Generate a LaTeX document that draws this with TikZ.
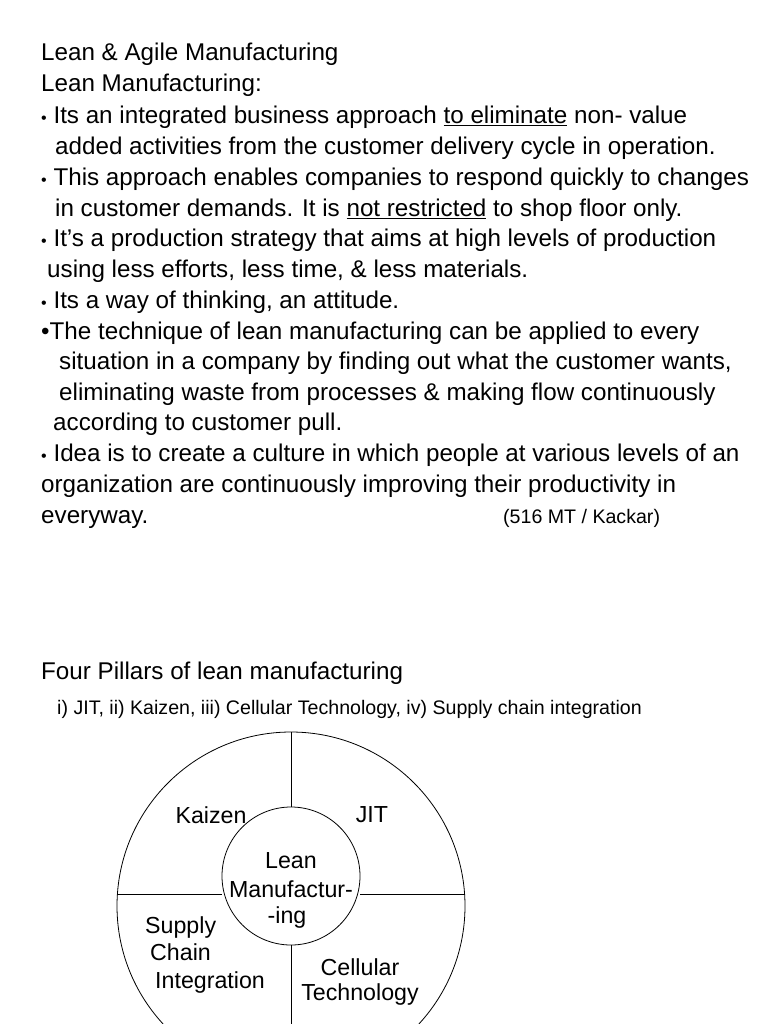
\documentclass[tikz,border=0pt]{standalone}
\usepackage{fontspec}
\setmainfont{Liberation Sans}
\newcommand\mybul{{\fontsize{16}{18}\selectfont•}}
\begin{document}
\begin{tikzpicture}[x=1pt,y=-1pt,
  txt/.style={anchor=base west,inner sep=0pt,font=\fontsize{24.2}{28}\selectfont},
  sm/.style={anchor=base west,inner sep=0pt,font=\fontsize{19.6}{22}\selectfont},
  lbl/.style={inner sep=0pt,font=\fontsize{23.2}{26}\selectfont}]
\useasboundingbox (0,0) rectangle (768,1024);
\node[txt] (t1) at (41,61) {Lean \& Agile Manufacturing};
\node[txt] (t2) at (41,92) {Lean Manufacturing:};
\node[txt] (a1) at (41,124) {\mybul{} Its an integrated business approach \underline{to eliminate} non- value};
\node[txt] (a2) at (55,155) {added activities from the customer delivery cycle in operation.};
\node[txt] (b1) at (41,186) {\mybul{} This approach enables companies to respond quickly to changes};
\node[txt] (b2) at (55,217) {in customer demands. It is \underline{not restricted} to shop floor only.};
\node[txt] (c1) at (41,247) {\mybul{} It’s a production strategy that aims at high levels of production};
\node[txt] (c2) at (47,277) {using less efforts, less time, \& less materials.};
\node[txt] (d1) at (41,308) {\mybul{} Its a way of thinking, an attitude.};
\node[txt] (e1) at (41,339) {•The technique of lean manufacturing can be applied to every};
\node[txt] (e2) at (59,369) {situation in a company by finding out what the customer wants,};
\node[txt] (e3) at (59,400) {eliminating waste from processes \& making flow continuously};
\node[txt] (e4) at (53,430) {according to customer pull.};
\node[txt] (f1) at (41,461) {\mybul{} Idea is to create a culture in which people at various levels of an};
\node[txt] (f2) at (41,492) {organization are continuously improving their productivity in};
\node[txt] (f3) at (41,523) {everyway.};
\node[sm] (ref) at (503,523) {(516 MT / Kackar)};
\node[txt] (p1) at (41,679) {Four Pillars of lean manufacturing};
\node[sm] (p2) at (57,714) {i) JIT, ii) Kaizen, iii) Cellular Technology, iv) Supply chain integration};
\coordinate (oc) at (291,906);
\coordinate (ic) at (291,876);
\draw[line width=0.8pt] (oc) circle[radius=174];
\draw[line width=0.8pt] (ic) circle[radius=69];
\coordinate (vt) at (291,732);
\coordinate (vb) at (291,807);
\coordinate (hl) at (117,894);
\coordinate (hli) at (222,894);
\coordinate (hri) at (360,894);
\coordinate (hr) at (465,894);
\coordinate (bt) at (291,945);
\coordinate (bb) at (291,1024);
\draw[line width=0.8pt] (vt) -- (vb) (hl) -- (hli) (hri) -- (hr) (bt) -- (bb);
\node[lbl] (k) at (211,815) {Kaizen};
\node[lbl] (j) at (372,815) {JIT};
\node[lbl] (l1) at (291,861) {Lean};
\node[lbl] (l2) at (291,889) {Manufactur-};
\node[lbl] (l3) at (287,917) {-ing};
\node[lbl,anchor=base west] (s1) at (145,933) {Supply};
\node[lbl,anchor=base west] (s2) at (150,960) {Chain};
\node[lbl,anchor=base west] (s3) at (155,988) {Integration};
\node[lbl] (c1x) at (360,967) {Cellular};
\node[lbl] (c2x) at (360,994) {Technology};
\end{tikzpicture}
\end{document}
